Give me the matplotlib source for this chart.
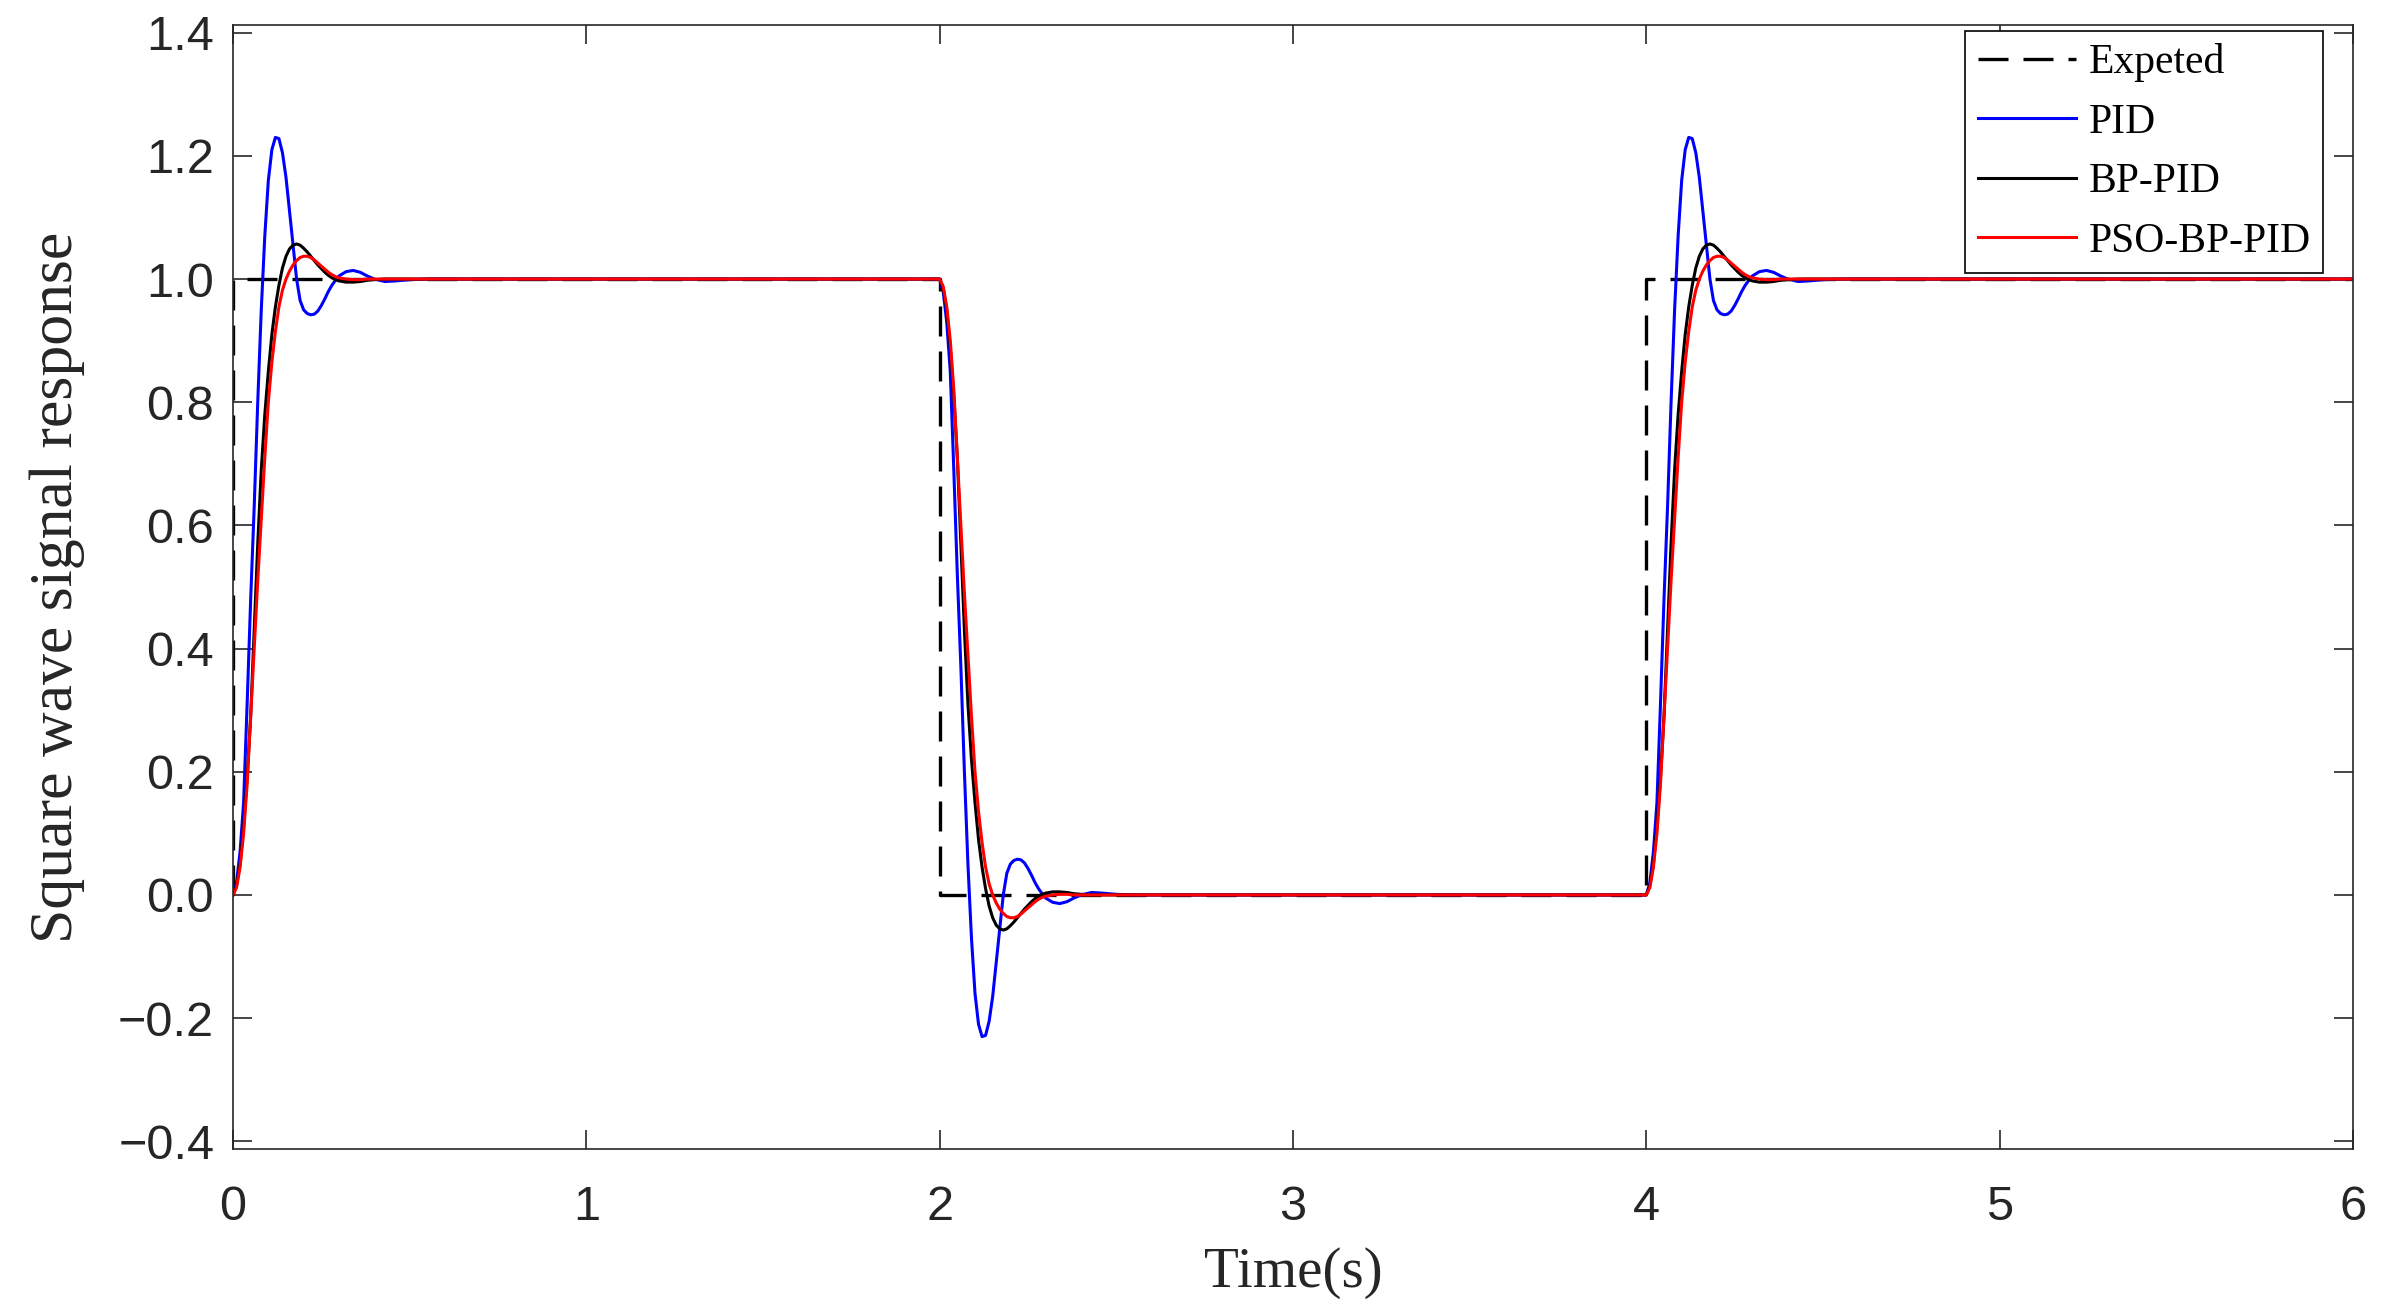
import numpy as np
import matplotlib.pyplot as plt

plt.rcParams['font.family'] = ['Liberation Sans', 'DejaVu Sans']
plt.rcParams['axes.unicode_minus'] = True

# square wave edges (expected signal)
expected_t = [0, 0, 2, 2, 4, 4, 6]
expected_y = [0, 1, 1, 0, 0, 1, 1]

# step response (time after the edge, s)
t_step = np.array([0.00, 0.01, 0.02, 0.03, 0.04, 0.05, 0.06, 0.07, 0.08, 0.09,
                   0.10, 0.11, 0.12, 0.13, 0.14, 0.15, 0.16, 0.17, 0.18, 0.19,
                   0.20, 0.21, 0.22, 0.23, 0.24, 0.25, 0.26, 0.27, 0.28, 0.29,
                   0.30, 0.32, 0.34, 0.36, 0.38, 0.40, 0.43, 0.46, 0.50, 0.55,
                   0.60])
pid_step = np.array([0.0, 0.02, 0.07, 0.15, 0.31, 0.48, 0.63, 0.80, 0.95, 1.07,
                     1.16, 1.21, 1.23, 1.228, 1.205, 1.165, 1.11, 1.055, 1.00, 0.965,
                     0.950, 0.944, 0.942, 0.943, 0.948, 0.957, 0.968, 0.980, 0.990, 0.998,
                     1.005, 1.012, 1.014, 1.011, 1.005, 1.000, 0.996, 0.997, 0.999, 1.0,
                     1.0])
bp_step = np.array([0.0, 0.015, 0.05, 0.11, 0.19, 0.29, 0.43, 0.57, 0.69, 0.78,
                    0.85, 0.91, 0.955, 0.99, 1.018, 1.037, 1.049, 1.055, 1.057, 1.055,
                    1.050, 1.044, 1.037, 1.030, 1.023, 1.017, 1.011, 1.006, 1.002, 0.999,
                    0.997, 0.995, 0.995, 0.996, 0.998, 0.999, 1.0, 1.0, 1.0, 1.0,
                    1.0])
pso_step = np.array([0.0, 0.012, 0.045, 0.10, 0.18, 0.29, 0.40, 0.51, 0.61, 0.71,
                     0.80, 0.865, 0.915, 0.955, 0.982, 1.000, 1.013, 1.023, 1.030, 1.035,
                     1.037, 1.037, 1.035, 1.031, 1.026, 1.021, 1.016, 1.011, 1.007, 1.004,
                     1.002, 1.000, 0.999, 0.999, 1.0, 1.0, 1.0, 1.0, 1.0, 1.0,
                     1.0])


def square_response(step):
    # rising edge at 0, falling edge at 2, rising edge at 4
    t = np.concatenate([t_step, 2 + t_step, 4 + t_step, [6.0]])
    y = np.concatenate([step, 1 - step, step, [step[-1]]])
    return t, y


fig = plt.figure(figsize=(23.88, 13.16), dpi=100)
ax = fig.add_axes([233 / 2388, 167 / 1316, 2120 / 2388, 1124 / 1316])

ax.plot(expected_t, expected_y, color='k', lw=2.4, dashes=(9, 4.5), label='Expeted')
t, y = square_response(pid_step)
ax.plot(t, y, color='#0000ff', lw=2.2, label='PID')
t, y = square_response(bp_step)
ax.plot(t, y, color='k', lw=2.2, label='BP-PID')
t, y = square_response(pso_step)
ax.plot(t, y, color='#ff0000', lw=2.2, label='PSO-BP-PID')

ax.set_xlim(0, 6)
ax.set_ylim(-0.4125, 1.4125)
ax.set_xticks(np.arange(0, 7, 1))
ax.set_yticks(np.arange(-0.4, 1.41, 0.2))
ax.set_yticklabels(['{:.1f}'.format(v).replace('-', '\u2212') for v in np.arange(-0.4, 1.41, 0.2)])

for side in ['left', 'right', 'top', 'bottom']:
    ax.spines[side].set_color('#262626')
    ax.spines[side].set_linewidth(1.2)
ax.tick_params(axis='both', direction='in', length=14, width=1.2, colors='#262626',
               labelsize=35, top=True, right=True)
ax.tick_params(axis='x', pad=26)
ax.tick_params(axis='y', pad=13.5)

ax.set_xlabel('Time(s)', family='Liberation Serif', fontsize=41, color='#262626')
ax.xaxis.set_label_coords(0.5, -0.087)
ax.set_ylabel('Square wave signal response', family='Liberation Serif', fontsize=44.5, color='#262626')
ax.yaxis.set_label_coords(-0.070, 0.5)

leg = ax.legend(loc='upper right', bbox_to_anchor=(2323 / 2388, 1 - 31 / 1316),
                bbox_transform=fig.transFigure, borderaxespad=0,
                prop={'family': 'Liberation Serif', 'size': 30},
                handlelength=2.35, handletextpad=0.3, labelspacing=0.5,
                borderpad=0.3, fancybox=False, framealpha=1)
leg.get_frame().set_edgecolor('k')
leg.get_frame().set_linewidth(1.2)

fig.savefig('out.png', dpi=100)
